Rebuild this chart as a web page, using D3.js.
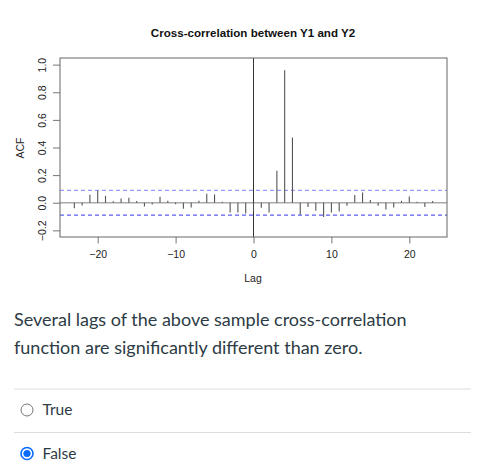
<!DOCTYPE html>
<html>
<head>
<meta charset="utf-8">
<script src="https://cdn.jsdelivr.net/npm/d3@7"></script>
<style>
  body { margin: 0; background: #fff; }
  svg { display: block; }
</style>
</head>
<body>
<script>
const w = 485;
const h = 476;

// lags shown in the ccf plot
const lags = [-23, -22, -21, -20, -19, -18, -17, -16, -15, -14, -13, -12, -11, -10, -9, -8, -7, -6, -5, -4, -3, -2, -1,
    0, 1, 2, 3, 4, 5, 6, 7, 8, 9, 10, 11, 12, 13, 14, 15, 16, 17, 18, 19, 20, 21, 22, 23];
// sample cross-correlation at each lag
const ccfValues = [-0.039, -0.02, 0.058, 0.089, 0.05, 0.01, 0.03, 0.036, 0.012, -0.027, -0.012, 0.043, 0.015, -0.01, -0.043, -0.034, 0.014, 0.065, 0.06, 0.007, -0.07, -0.07, -0.077,
    -0.065, -0.036, -0.07, 0.232, 0.959, 0.473, -0.087, -0.031, -0.058, -0.104, -0.07, -0.063, -0.022, 0.056, 0.075, 0.019, -0.022, -0.048, -0.034, 0.014, 0.046, 0.007, -0.031, 0.012];
const ciBound = 0.089;
const xTicks = [-20, -10, 0, 10, 20];
const yTicks = [-0.2, 0, 0.2, 0.4, 0.6, 0.8, 1.0];

const title = "Cross-correlation between Y1 and Y2";
const questionLines = ["Several lags of the above sample cross-correlation", "function are significantly different than zero."];
const answers = ["True", "False"];
const chosen = "False";

function createChart() {
    const svg = d3.select("body")
        .append("svg")
        .attr("width", w)
        .attr("height", h)
        ;

    const box = { left: 60, right: 447, top: 58, bottom: 237 };

    // R pads the lag range and ylim by 4%
    const xScale = d3.scaleLinear()
        .domain([-24.84, 24.84])
        .range([box.left, box.right])
        ;
    const yScale = d3.scaleLinear()
        .domain([-0.248, 1.048])
        .range([box.bottom, box.top])
        ;

    const rFont = "'Liberation Sans', Arial, sans-serif";

    svg.append("text")
        .attr("x", 253)
        .attr("y", 36.5)
        .attr("text-anchor", "middle")
        .attr("font-family", rFont)
        .attr("font-weight", "bold")
        .attr("font-size", 11.6)
        .attr("fill", "#111")
        .text(title)
        ;

    const xAxis = d3.axisBottom(xScale).tickValues(xTicks).tickSize(6.5).tickPadding(7);
    const yAxis = d3.axisLeft(yScale).tickValues(yTicks).tickSize(7).tickFormat(d3.format(".1f"));

    const gx = svg.append("g")
        .attr("transform", "translate(0, " + box.bottom + ")")
        .call(xAxis)
        ;
    const gy = svg.append("g")
        .attr("transform", "translate(" + box.left + ", 0)")
        .call(yAxis)
        ;
    [gx, gy].forEach(g => {
        g.select(".domain").remove();
        g.selectAll("line").attr("stroke", "#777");
        g.selectAll("text")
            .attr("font-family", rFont)
            .attr("font-size", 10.5)
            .attr("fill", "#222")
            ;
    });
    gy.selectAll("text")
        .attr("transform", "rotate(-90)")
        .attr("x", 0)
        .attr("y", -14.5)
        .attr("dy", 0)
        .attr("text-anchor", "middle")
        ;

    svg.append("text")
        .attr("x", 253)
        .attr("y", 282)
        .attr("text-anchor", "middle")
        .attr("font-family", rFont)
        .attr("font-size", 10.5)
        .attr("fill", "#222")
        .text("Lag")
        ;
    svg.append("text")
        .attr("transform", "translate(24, 148) rotate(-90)")
        .attr("text-anchor", "middle")
        .attr("font-family", rFont)
        .attr("font-size", 10.5)
        .attr("fill", "#222")
        .text("ACF")
        ;

    // zero line
    svg.append("line")
        .attr("x1", box.left).attr("x2", box.right)
        .attr("y1", yScale(0)).attr("y2", yScale(0))
        .attr("stroke", "#aaa")
        .attr("stroke-width", 1.5)
        ;

    // confidence bounds
    [ciBound, -ciBound].forEach((v, i) => {
        svg.append("line")
            .attr("x1", box.left).attr("x2", box.right)
            .attr("y1", yScale(v)).attr("y2", yScale(v))
            .attr("stroke", i === 0 ? "#9a9aff" : "#5c5cf0")
            .attr("stroke-width", 1.2)
            .attr("stroke-dasharray", "4,3")
            ;
    });

    // vertical line at lag 0
    svg.append("line")
        .attr("x1", xScale(0)).attr("x2", xScale(0))
        .attr("y1", box.top).attr("y2", box.bottom)
        .attr("stroke", "#333")
        .attr("stroke-width", 1)
        ;

    svg.selectAll(".spike")
        .data(lags)
        .enter()
        .append("line")
        .attr("class", "spike")
        .attr("x1", d => xScale(d))
        .attr("x2", d => xScale(d))
        .attr("y1", yScale(0))
        .attr("y2", (d, i) => yScale(ccfValues[i]))
        .attr("stroke", "#555")
        .attr("stroke-width", 1.1)
        ;

    svg.append("rect")
        .attr("x", box.left)
        .attr("y", box.top)
        .attr("width", box.right - box.left)
        .attr("height", box.bottom - box.top)
        .attr("fill", "none")
        .attr("stroke", "#666")
        .attr("stroke-width", 1)
        ;

    // question text below the plot
    const qFont = "Lato, 'Open Sans', sans-serif";
    svg.selectAll(".q")
        .data(questionLines)
        .enter()
        .append("text")
        .attr("class", "q")
        .attr("x", 14)
        .attr("y", (d, i) => 326 + i * 28)
        .attr("font-family", qFont)
        .attr("font-size", 18)
        .attr("fill", "#2d3b45")
        .text(d => d)
        ;

    answers.forEach((a, i) => {
        const top = 389 + i * 43.5;
        svg.append("line")
            .attr("x1", 14).attr("x2", 471)
            .attr("y1", top).attr("y2", top)
            .attr("stroke", "#ddd")
            .attr("stroke-width", 1)
            ;
        const cy = top + 21;
        if (a === chosen) {
            svg.append("circle")
                .attr("cx", 27).attr("cy", cy).attr("r", 6)
                .attr("fill", "#fff")
                .attr("stroke", "#0b6cff")
                .attr("stroke-width", 1.6)
                ;
            svg.append("circle")
                .attr("cx", 27).attr("cy", cy).attr("r", 3.6)
                .attr("fill", "#0b6cff")
                ;
        } else {
            svg.append("circle")
                .attr("cx", 27).attr("cy", cy).attr("r", 6)
                .attr("fill", "#fff")
                .attr("stroke", "#767676")
                .attr("stroke-width", 1)
                ;
        }
        svg.append("text")
            .attr("x", 42.5)
            .attr("y", cy + 5)
            .attr("font-family", qFont)
            .attr("font-size", 15.5)
            .attr("fill", "#2d3b45")
            .text(a)
            ;
    });
}

createChart();
</script>
</body>
</html>
